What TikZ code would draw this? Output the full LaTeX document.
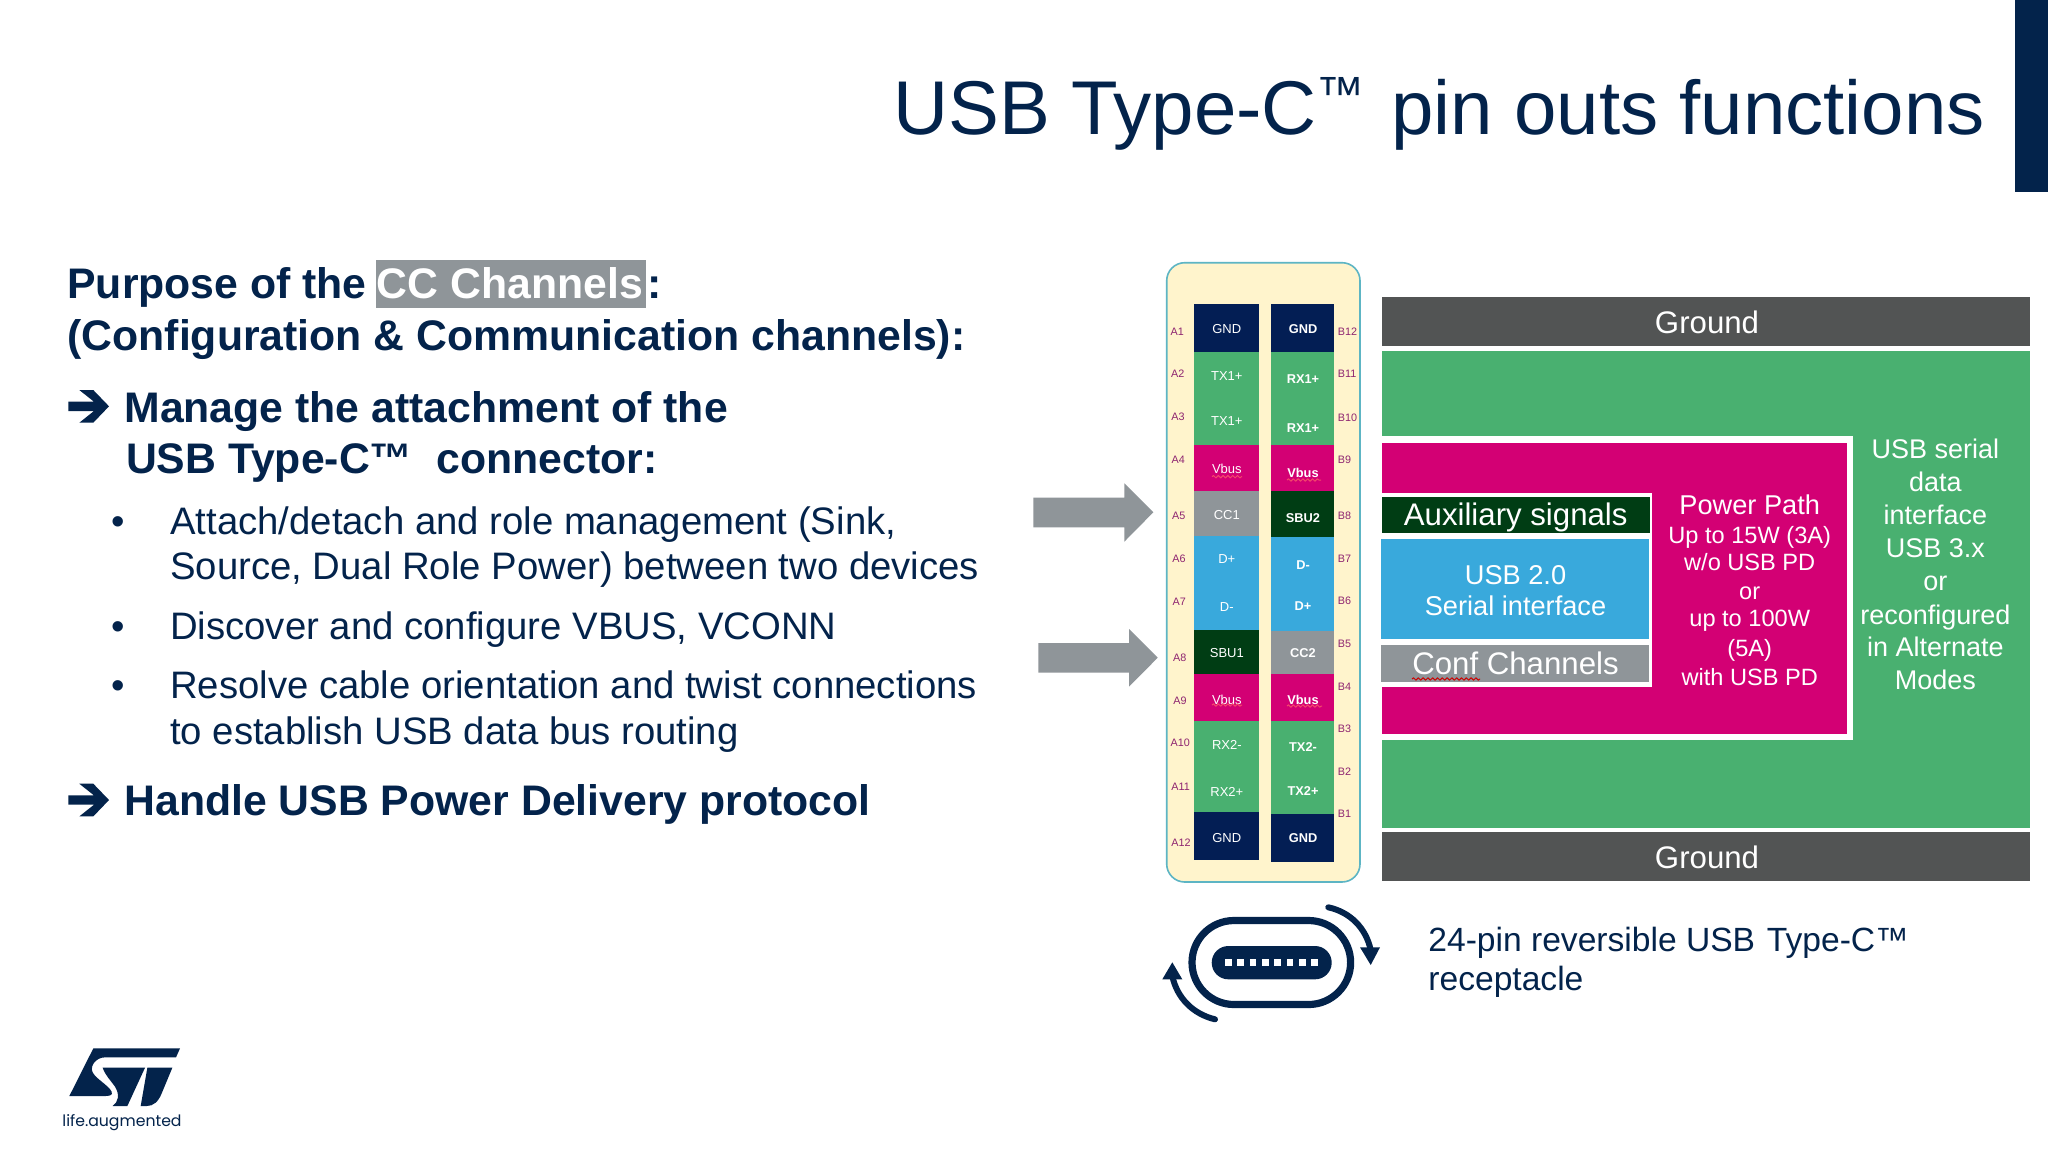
\documentclass[tikz,border=0pt]{standalone}
\usepackage{fontspec}
\setmainfont{Liberation Sans}
\newfontfamily\logofont{Poppins}
\usetikzlibrary{decorations.pathmorphing}
\definecolor{stnavy}{HTML}{03234B}
\definecolor{pinnavy}{HTML}{031E54}
\definecolor{stgreen}{HTML}{49B070}
\definecolor{stpink}{HTML}{D30074}
\definecolor{stblue}{HTML}{39A9DC}
\definecolor{stgray}{HTML}{8F9599}
\definecolor{stdark}{HTML}{003D14}
\definecolor{stground}{HTML}{525454}
\definecolor{stcream}{HTML}{FFF4CC}
\definecolor{stframe}{HTML}{5DB5C4}
\definecolor{pinlabel}{HTML}{8E2470}
\definecolor{wavy}{HTML}{F4476B}
\newcommand{\fsize}[1]{\fontsize{#1}{#1}\selectfont}
\tikzset{
	txt/.style={inner sep=0pt,anchor=base west,text=stnavy},
	headtxt/.style={txt,font=\fsize{21.38}\bfseries},
	bodytxt/.style={txt,font=\fsize{19.15}},
	pintxt/.style={inner sep=0pt,text=white,font=\fsize{6.5}},
	pinno/.style={inner sep=0pt,text=pinlabel,font=\fsize{5.4}},
	boxtxt/.style={inner sep=0pt,text=white,anchor=base},
	squiggle/.style={decorate,decoration={snake,amplitude=.6pt,segment length=2.4pt},line width=.5pt}
}
\begin{document}
\begin{tikzpicture}[x=.5pt,y=-.5pt,line join=round]
	\useasboundingbox (0,0) rectangle (2048,1152);
	\fill[white] (0,0) rectangle (2048,1152);
	% title
	\fill[stnavy] (2015,0) rectangle (2048,191.7);
	\node[inner sep=0pt,anchor=base east,text=stnavy,font=\fsize{38.1}] (title) at (1985,134.5)
		{USB Type-C\raisebox{12pt}{\fsize{24}™}\hspace{.35em}pin outs functions};
	% left column
	\fill[stgray] (376,260) rectangle (646,308);
	\node[headtxt] (purpose) at (67,298.5) {Purpose of the};
	\node[headtxt,text=white] (cchan) at (376.5,298.5) {CC Channels};
	\node[headtxt] (colon) at (647,298.5) {:};
	\node[headtxt] (confcomm) at (67,350) {(Configuration \& Communication channels):};
	\foreach \dy in {0,393.7}
	\fill[stnavy,shift={(0,\dy)}] (68.3,401.7)--(94,401.7)--(79.3,390)--(93.3,390)--(109,406.3)--(93.3,422.7)--(79.3,422.7)--(94,411)--(68.3,411)--cycle;
	\node[headtxt] (manage) at (124,422.5) {Manage the attachment of the};
	\node[headtxt] (connector) at (125.6,473) {USB Type-C™\hspace{.56em}connector:};
	\node[headtxt] (handle) at (124,815.5) {Handle USB Power Delivery protocol};
	\foreach \n/\y in {a/534.5,b/639,c/698}
	\node[bodytxt,anchor=base] (bul\n) at (118.7,\y) {•};
	\node[bodytxt] (attach) at (169.8,534.5) {Attach/detach and role management (Sink,};
	\node[bodytxt] (source) at (169.8,579) {Source, Dual Role Power) between two devices};
	\node[bodytxt] (discover) at (169.8,639) {Discover and configure VBUS, VCONN};
	\node[bodytxt] (resolve) at (169.8,698) {Resolve cable orientation and twist connections};
	\node[bodytxt] (establish) at (169.8,744.5) {to establish USB data bus routing};
	% grey arrows
	\fill[stgray] (1033.3,497.7)--(1124.3,497.7)--(1124.3,483.3)--(1153.3,512.3)--(1124.3,541.7)--(1124.3,527.3)--(1033.3,527.3)--cycle;
	\fill[stgray] (1038.3,643)--(1129,643)--(1129,629)--(1157.7,657.7)--(1129,686.7)--(1129,672.7)--(1038.3,672.7)--cycle;
	% receptacle
	\draw[stframe,fill=stcream,line width=.8pt,rounded corners=9pt] (1166.7,262.7) rectangle (1360,882);
	\foreach \a/\b/\c in {304.3/352/pinnavy,352/444.7/stgreen,444.7/491/stpink,491/535.7/stgray,535.7/629.7/stblue,629.7/674.3/stdark,674.3/721/stpink,721/812/stgreen,812/860/pinnavy}
	\fill[\c] (1194.3,\a) rectangle (1259.3,\b);
	\foreach \a/\b/\c in {304.3/352/pinnavy,352/444.7/stgreen,444.7/491.3/stpink,491.3/537.3/stdark,537.3/630.7/stblue,630.7/674.3/stgray,674.3/721/stpink,721/813.7/stgreen,813.7/861.7/pinnavy}
	\fill[\c] (1271,\a) rectangle (1334.3,\b);
	\foreach \n/\t/\y in {1/GND/329,2/TX1+/376,3/TX1+/421,4/Vbus/469,5/CC1/515,6/D+/559,7/D-/607,8/SBU1/653,9/Vbus/699.7,10/RX2-/745,11/RX2+/792,12/GND/838}
	\node[pintxt] (left\n) at (1226.8,\y) {\t};
	\foreach \n/\t/\y in {1/GND/329,2/RX1+/379,3/RX1+/428,4/Vbus/473,5/SBU2/518,6/D-/565,7/D+/606,8/CC2/652.7,9/Vbus/699.7,10/TX2-/747,11/TX2+/791,12/GND/838}
	\node[pintxt,font=\fsize{6.4}\bfseries] (right\n) at (1303,\y) {\t};
	\foreach \n/\y in {1/331.7,2/374,3/417,4/459.7,5/515.7,6/559,7/601.7,8/657.7,9/700.7,10/743,11/787,12/843}
	\node[pinno] (pinA\n) at (1177+\n/3,\y) {A\n};
	\foreach \n/\y in {12/332,11/374,10/418,9/459.7,8/516,7/559,6/601,5/644,4/686.7,3/728.7,2/772,1/813.7}
	\node[pinno,anchor=west] (pinB\n) at (1337.5,\y) {B\n};
	\draw[squiggle,wavy] (1212,476.7)--(1242,476.7);
	\draw[squiggle,wavy] (1287,480)--(1321,480);
	\draw[squiggle,wavy] (1212,705)--(1242,705);
	\draw[squiggle,wavy] (1287,706)--(1322,706);
	% functions block
	\fill[stground] (1382,297.3) rectangle (2030,346.3);
	\fill[stgreen] (1382,350.7) rectangle (2030,827.7);
	\fill[stground] (1382,831.7) rectangle (2030,881);
	\fill[white] (1382,436) rectangle (1853,740);
	\fill[stpink] (1382,443.3) rectangle (1846.7,734);
	\fill[white] (1381,492.7) rectangle (1652,686.7);
	\fill[stdark] (1382,496.7) rectangle (1650,533);
	\fill[stblue] (1381,539) rectangle (1649.3,638.7);
	\fill[stgray] (1381,645) rectangle (1649.3,681.7);
	\node[boxtxt,font=\fsize{15.6}] (gndtop) at (1707,333) {Ground};
	\node[boxtxt,font=\fsize{15.6}] (gndbot) at (1707,868) {Ground};
	\node[boxtxt,font=\fsize{15.6}] (aux) at (1515.7,525.5) {Auxiliary signals};
	\node[boxtxt,font=\fsize{13.6}] (usb2) at (1515.5,584) {USB 2.0};
	\node[boxtxt,font=\fsize{13.6}] (serial) at (1515.5,615.5) {Serial interface};
	\node[boxtxt,font=\fsize{15.6}] (conf) at (1515.5,674.5) {Conf Channels};
	\draw[squiggle,red!80!black] (1412,679)--(1480,679);
	\node[boxtxt,font=\fsize{13.6}] (pwr) at (1749.7,514) {Power Path};
	\foreach \n/\t/\y in {1/Up to 15W (3A)/543,2/w\slash o USB PD/570,3/or/599.3,4/up to 100W/626,5/(5A)/656.7,6/with USB PD/685}
	\node[boxtxt,font=\fsize{11.8}] (pwr\n) at (1749.7,\y) {\t};
	\foreach \n/\t/\y in {1/USB serial/458,2/data/491.5,3/interface/524.3,4/USB 3.x/557.3,5/or/590.7,6/reconfigured/624,7/in Alternate/656.7,8/Modes/689}
	\node[boxtxt,font=\fsize{13.5}] (ser\n) at (1935.3,\y) {\t};
	% connector icon
	\draw[stnavy,line width=3.6pt,rounded corners=21pt] (1192,920.5) rectangle (1350.6,1004.5);
	\fill[stnavy,rounded corners=8.3pt] (1211.7,946) rectangle (1331.7,979.3);
	\foreach \i in {0,...,7}
	\fill[white] (1225+12.33*\i,959.4) rectangle ++(6.6,6.6);
	\draw[stnavy,line width=3pt,line cap=round] (1328.3,907.3) .. controls (1350,912) and (1366,928) .. (1370.7,950);
	\fill[stnavy] (1360,947.3)--(1380,947.3)--(1370.7,965)--cycle;
	\draw[stnavy,line width=3pt,line cap=round] (1215,1019.3) .. controls (1193,1014) and (1177,998) .. (1172.3,976);
	\fill[stnavy] (1162.3,979.3)--(1182.3,979.3)--(1172.3,962.3)--cycle;
	\node[txt,font=\fsize{16.8}] (rev1) at (1428,951) {24-pin reversible USB\hspace{.35em}Type-C™};
	\node[txt,font=\fsize{16.8}] (rev2) at (1428,990.5) {receptacle};
	% logo
	\begin{scope}[shift={(40,1030)},x=.1667pt,y=-.1667pt]
		\fill[stnavy] (160,55)--(420,55)--(408,82)--(195,82) .. controls (170,82) and (150,105) .. (157,125) .. controls (165,145) and (205,165) .. (215,185) .. controls (220,197) and (205,198) .. (195,198)--(88,198)--cycle;
		\fill[stnavy] (188,113)--(315,113)--(262,228)--(218,228) .. controls (235,215) and (240,195) .. (225,170) .. controls (215,155) and (195,135) .. (188,113)--cycle;
		\fill[stnavy] (322,113)--(397,113)--(365,190) .. controls (355,215) and (340,228) .. (320,228)--(302,228)--cycle;
	\end{scope}
	\node[inner sep=0pt,anchor=base west,text=stnavy,font=\logofont\fsize{7.85}] (lifeaug) at (62,1126) {life.augmented};
\end{tikzpicture}
\end{document}
